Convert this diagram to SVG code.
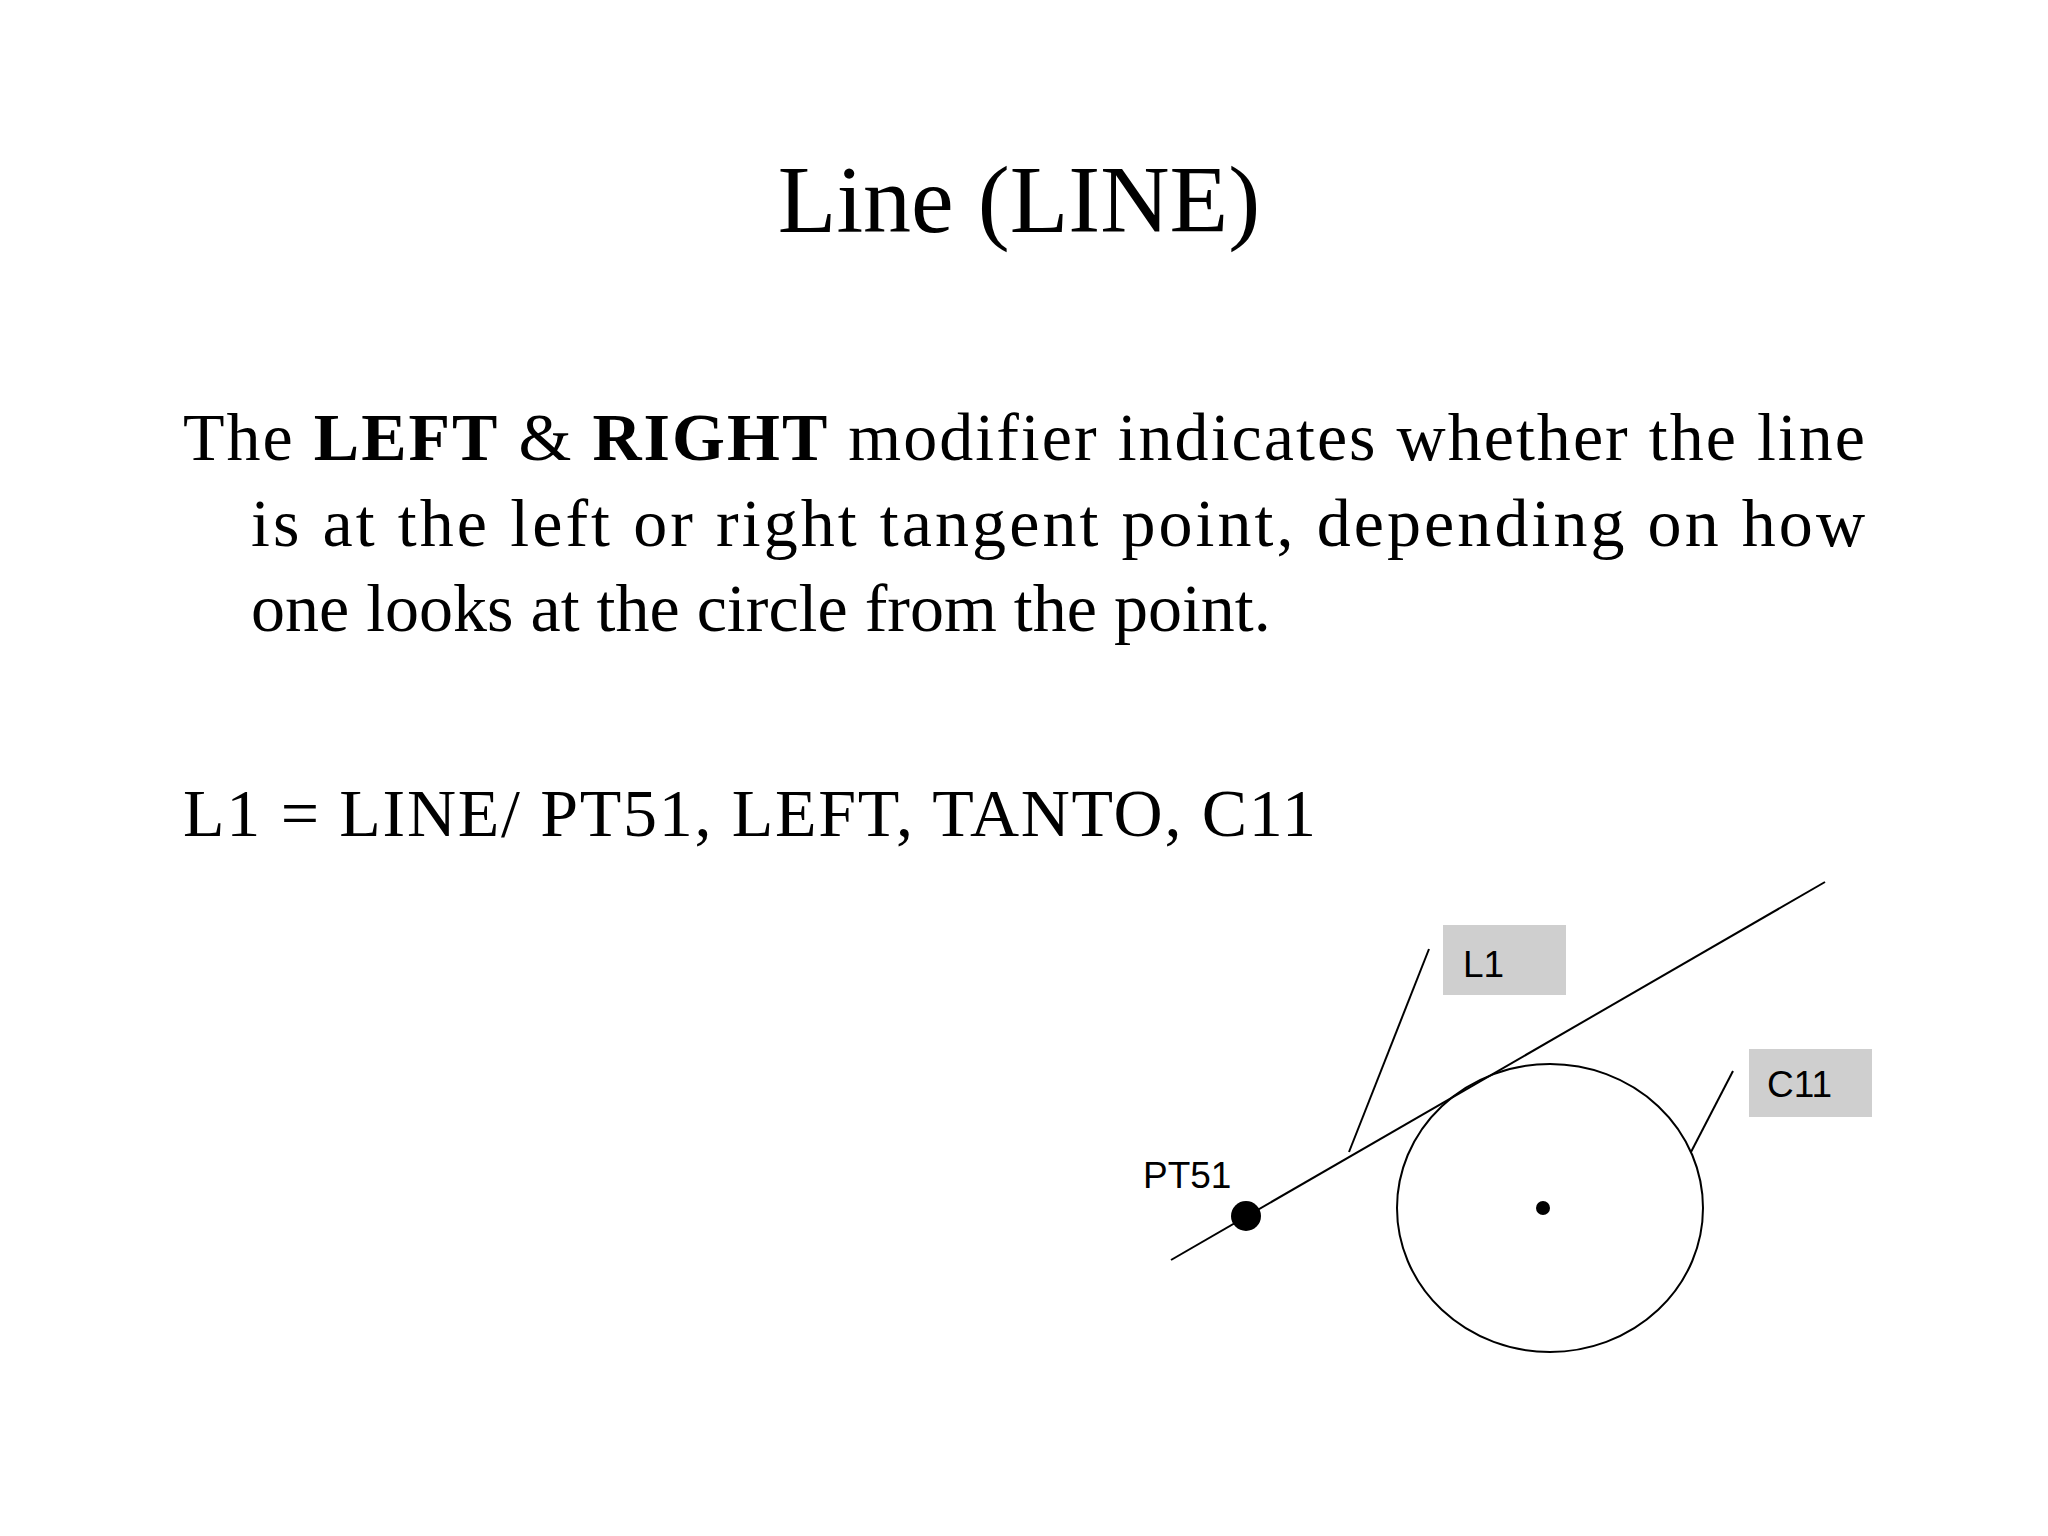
<svg xmlns="http://www.w3.org/2000/svg" width="2048" height="1536" viewBox="0 0 2048 1536">
<style>
.s{font-family:"Liberation Serif",serif;fill:#000}
.a{font-family:"Liberation Sans",Arial,sans-serif;font-size:37px;fill:#000}
.ln{stroke:#000;stroke-width:2;fill:none}
.box{fill:#cfcfcf}
</style>
<rect width="2048" height="1536" fill="#fff"/>
<g id="title"><text class="s" x="1019" y="232" font-size="96" text-anchor="middle">Line (LINE)</text></g>
<g id="body" class="s" font-size="68">
<text x="183" y="460" textLength="1682" lengthAdjust="spacing">The <tspan font-weight="bold">LEFT</tspan> &amp; <tspan font-weight="bold">RIGHT</tspan> modifier indicates whether the line</text>
<text x="251" y="546" textLength="1614" lengthAdjust="spacing">is at the left or right tangent point, depending on how</text>
<text x="251" y="631">one looks at the circle from the point.</text>
<text x="183" y="836" textLength="1133" lengthAdjust="spacing">L1 = LINE/ PT51, LEFT, TANTO, C11</text>
</g>
<g id="connectors">
<line class="ln" x1="1171" y1="1260" x2="1825" y2="882"/>
<line class="ln" x1="1349" y1="1152" x2="1429" y2="949"/>
<line class="ln" x1="1691" y1="1152" x2="1733" y2="1071"/>
</g>
<g id="PT51"><circle cx="1246" cy="1216" r="15" fill="#000"/><text class="a" x="1143" y="1188">PT51</text></g>
<g id="C11circle"><ellipse class="ln" cx="1550" cy="1208" rx="153" ry="144"/><circle cx="1543" cy="1208" r="7" fill="#000"/></g>
<g id="L1label"><rect class="box" x="1443" y="925" width="123" height="70"/><text class="a" x="1463" y="977">L1</text></g>
<g id="C11label"><rect class="box" x="1749" y="1049" width="123" height="68"/><text class="a" x="1767" y="1097">C11</text></g>
</svg>
